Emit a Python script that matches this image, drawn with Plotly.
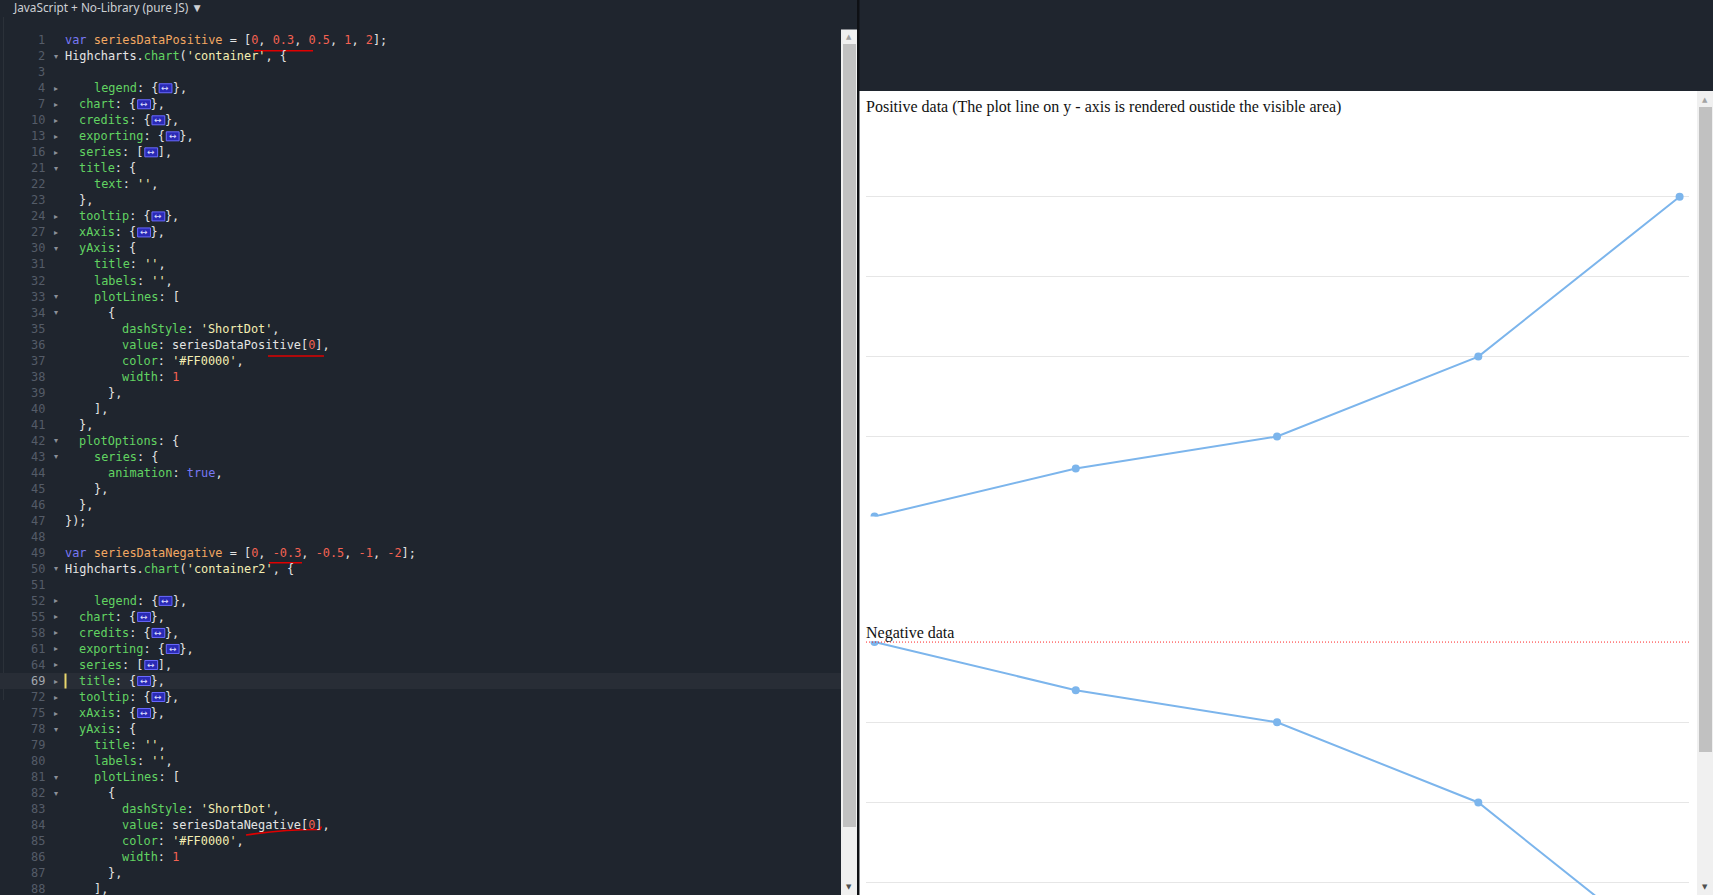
import plotly.graph_objects as go

W, H = 1713, 895

# chart data
categories = [0, 1, 2, 3, 4]
seriesDataPositive = [0, 0.3, 0.5, 1, 2]
seriesDataNegative = [0, -0.3, -0.5, -1, -2]
grid_positive = [0.5, 1, 1.5, 2]
grid_negative = [-0.5, -1, -1.5, -2]
plot_line_value = seriesDataNegative[0]

title_positive = 'Positive data (The plot line on y - axis is rendered oustide the visible area)'
title_negative = 'Negative data'
header_text = 'JavaScript + No-Library (pure JS) \u25bc'

# editor colours
colors = {
    'kw': '#7878f4',
    'var': '#f2a862',
    'num': '#f46252',
    'p': '#e4e4e4',
    'str': '#f4eeb2',
    'key': '#62d462',
}


def fold(n, key, indent, br='{}'):
    return (n, 'c', indent, [(key, 'key'), (': ' + br[0], 'p'), (None, 'ph'), (br[1] + ',', 'p')])


def opened(n, key, indent, br='{'):
    return (n, 'o', indent, [(key, 'key'), (': ' + br, 'p')])


def strval(n, key, indent, s):
    return (n, '', indent, [(key, 'key'), (': ', 'p'), ("'" + s + "'", 'str'), (',', 'p')])


def plain(n, indent, s, f=''):
    return (n, f, indent, [(s, 'p')])


def block(name, values, start, container):
    nums = []
    for v in values:
        nums += [(str(v), 'num'), (', ', 'p')]
    nums[-1] = ('];', 'p')
    return [
        (start, '', 0, [('var', 'kw'), (' ', 'p'), (name, 'var'), (' = [', 'p')] + nums),
        (start + 1, 'o', 0, [('Highcharts.', 'p'), ('chart', 'key'), ('(', 'p'),
                             ("'" + container + "'", 'str'), (', {', 'p')]),
    ]


code_lines = (
    block('seriesDataPositive', [0, 0.3, 0.5, 1, 2], 1, 'container')
    + [
        plain(3, 0, ''),
        fold(4, 'legend', 4),
        fold(7, 'chart', 2),
        fold(10, 'credits', 2),
        fold(13, 'exporting', 2),
        fold(16, 'series', 2, '[]'),
        opened(21, 'title', 2),
        strval(22, 'text', 4, ''),
        plain(23, 2, '},'),
        fold(24, 'tooltip', 2),
        fold(27, 'xAxis', 2),
        opened(30, 'yAxis', 2),
        strval(31, 'title', 4, ''),
        strval(32, 'labels', 4, ''),
        opened(33, 'plotLines', 4, '['),
        plain(34, 6, '{', 'o'),
        strval(35, 'dashStyle', 8, 'ShortDot'),
        (36, '', 8, [('value', 'key'), (': seriesDataPositive[', 'p'), ('0', 'num'), ('],', 'p')]),
        strval(37, 'color', 8, '#FF0000'),
        (38, '', 8, [('width', 'key'), (': ', 'p'), ('1', 'num')]),
        plain(39, 6, '},'),
        plain(40, 4, '],'),
        plain(41, 2, '},'),
        opened(42, 'plotOptions', 2),
        opened(43, 'series', 4),
        (44, '', 6, [('animation', 'key'), (': ', 'p'), ('true', 'kw'), (',', 'p')]),
        plain(45, 4, '},'),
        plain(46, 2, '},'),
        plain(47, 0, '});'),
        plain(48, 0, ''),
    ]
    + block('seriesDataNegative', [0, -0.3, -0.5, -1, -2], 49, 'container2')
    + [
        plain(51, 0, ''),
        fold(52, 'legend', 4),
        fold(55, 'chart', 2),
        fold(58, 'credits', 2),
        fold(61, 'exporting', 2),
        fold(64, 'series', 2, '[]'),
        fold(69, 'title', 2),
        fold(72, 'tooltip', 2),
        fold(75, 'xAxis', 2),
        opened(78, 'yAxis', 2),
        strval(79, 'title', 4, ''),
        strval(80, 'labels', 4, ''),
        opened(81, 'plotLines', 4, '['),
        plain(82, 6, '{', 'o'),
        strval(83, 'dashStyle', 8, 'ShortDot'),
        (84, '', 8, [('value', 'key'), (': seriesDataNegative[', 'p'), ('0', 'num'), ('],', 'p')]),
        strval(85, 'color', 8, '#FF0000'),
        (86, '', 8, [('width', 'key'), (': ', 'p'), ('1', 'num')]),
        plain(87, 6, '},'),
        plain(88, 4, '],'),
    ]
)
active_line = 69


def px(x):
    return x / W


def py(y):
    return 1 - y / H


shapes = []
annotations = []


def rect(x0, y0, x1, y1, fill, line=None, lw=0, layer='below'):
    shapes.append(dict(
        type='rect', xref='paper', yref='paper',
        x0=px(x0), x1=px(x1), y0=py(y1), y1=py(y0),
        fillcolor=fill, line=dict(color=line or fill, width=lw), layer=layer,
    ))


def text(x, y, s, color, size, family, xanchor='left'):
    annotations.append(dict(
        x=px(x), y=py(y), xref='paper', yref='paper', text=s, showarrow=False,
        xanchor=xanchor, yanchor='middle', borderpad=0, borderwidth=0,
        font=dict(color=color, size=size, family=family),
    ))


# editor chrome
mono = 'DejaVu Sans Mono'
mono_size = 11.9
char_w = 0.602 * mono_size
code_x = 65
line_h = 16.02
first_y = 40.2

rect(3, 17, 4, 700, '#2b3139')
rect(841, 29.5, 857, 895, '#f0f0f0')
rect(843, 44, 856, 827, '#c1c1c1')
rect(857, 0, 859.5, 895, '#0e1014')
rect(859.5, 91, 1697, 895, '#ffffff')
rect(1697, 91, 1713, 895, '#f0f0f0')
rect(1699, 107, 1712, 752, '#c1c1c1')
text(849, 37, '\u25b2', '#a3a3a3', 7, 'DejaVu Sans', 'center')
text(849, 887, '\u25bc', '#505050', 7, 'DejaVu Sans', 'center')
text(1705, 100, '\u25b2', '#a3a3a3', 7, 'DejaVu Sans', 'center')
text(1705, 887, '\u25bc', '#505050', 7, 'DejaVu Sans', 'center')
text(13, 7.5, header_text, '#cdd0d4', 11.8, 'Noto Sans')

for k, (n, f, indent, parts) in enumerate(code_lines):
    yc = first_y + line_h * k
    if n == active_line:
        rect(0, yc - 8, 841, yc + 8, '#282d36')
        rect(64.5, yc - 7.5, 66.5, yc + 7.5, '#e8d66c', layer='above')
    text(45, yc, str(n), '#a2a7ae' if n == active_line else '#555c68', mono_size, mono, 'right')
    if f:
        text(56, yc, '\u25b8' if f == 'c' else '\u25be', '#8b9099', 8, 'DejaVu Sans', 'center')
    col = indent
    html = ''
    for s, kind in parts:
        if kind == 'ph':
            bx = code_x + col * char_w
            rect(bx + 1, yc - 4.5, bx + 2 * char_w - 0.5, yc + 4.5, '#2a2ab4', '#6a6aff', 1, 'above')
            text(bx + char_w + 0.2, yc, '\u2194', '#dcdcff', 9, 'DejaVu Sans', 'center')
            html += '\u00a0\u00a0'
            col += 2
            continue
        if s:
            html += '<span style="color:%s">%s</span>' % (colors[kind], s.replace(' ', '\u00a0'))
            col += len(s)
    if html:
        text(code_x + indent * char_w, yc, html, colors['p'], mono_size, mono)

# hand-drawn red underlines
for x0, x1, y in [(254, 313, 50.7), (268, 324, 356), (269, 302, 562.7)]:
    shapes.append(dict(type='line', xref='paper', yref='paper', x0=px(x0), x1=px(x1), y0=py(y), y1=py(y),
                       line=dict(color='#e00000', width=1.6), layer='above'))
shapes.append(dict(
    type='path', xref='paper', yref='paper', layer='above',
    path='M %f,%f Q %f,%f %f,%f L %f,%f' % (px(246), py(835), px(282), py(829.5), px(320), py(829.5),
                                         px(321.5), py(826.5)),
    line=dict(color='#e00000', width=1.6),
))

# chart titles
text(866, 107, title_positive, '#111111', 16, 'Liberation Serif')
text(866, 633, title_negative, '#111111', 16, 'Liberation Serif')

# plot geometry (pixels)
plot_x0, plot_x1 = 866, 1689
cat_x0, cat_x1 = 874.5, 1679.6
unit_x = (cat_x1 - cat_x0) / 4
x_range = [-(cat_x0 - plot_x0) / unit_x, 4 + (plot_x1 - cat_x1) / unit_x]

pos_zero, pos_unit = 516.5, 159.9
pos_range = [0, 2.1]
neg_zero, neg_unit = 642, 160.5
neg_range = [-(H - neg_zero) / neg_unit, 0.004]

fig = go.Figure()
series_style = dict(mode='lines+markers', line=dict(color='#7cb5ec', width=2),
                    marker=dict(size=8, color='#7cb5ec'), showlegend=False)
fig.add_trace(go.Scatter(x=categories, y=seriesDataPositive, xaxis='x', yaxis='y', **series_style))
fig.add_trace(go.Scatter(x=categories, y=seriesDataNegative, xaxis='x2', yaxis='y2', **series_style))

shapes.append(dict(
    type='line', xref='x2 domain', yref='y2', x0=0, x1=1, y0=plot_line_value, y1=plot_line_value,
    line=dict(color='#FF0000', width=1, dash='1px,2px'), layer='above',
))

xaxis_style = dict(range=x_range, domain=[px(plot_x0), px(plot_x1)], showgrid=False, zeroline=False,
                   showticklabels=False, ticks='', showline=False, fixedrange=True)
yaxis_style = dict(showgrid=True, gridcolor='#e6e6e6', gridwidth=1, zeroline=False,
                   showticklabels=False, ticks='', showline=False, fixedrange=True)

fig.update_layout(
    width=W,
    height=H,
    margin=dict(l=0, r=0, t=0, b=0),
    paper_bgcolor='#1f252e',
    plot_bgcolor='rgba(0,0,0,0)',
    xaxis=dict(anchor='y', **xaxis_style),
    yaxis=dict(anchor='x', range=pos_range, tickvals=grid_positive,
               domain=[py(pos_zero), py(pos_zero - pos_range[1] * pos_unit)], **yaxis_style),
    xaxis2=dict(anchor='y2', **xaxis_style),
    yaxis2=dict(anchor='x2', range=neg_range, tickvals=grid_negative,
                domain=[0, py(neg_zero - neg_range[1] * neg_unit)], **yaxis_style),
    shapes=shapes,
    annotations=annotations,
)

# the page body has a default 8px margin; drop it so the figure fills the window
fig.write_html("out.html", config={'displayModeBar': False},
               post_script="document.body.style.margin='0';")
